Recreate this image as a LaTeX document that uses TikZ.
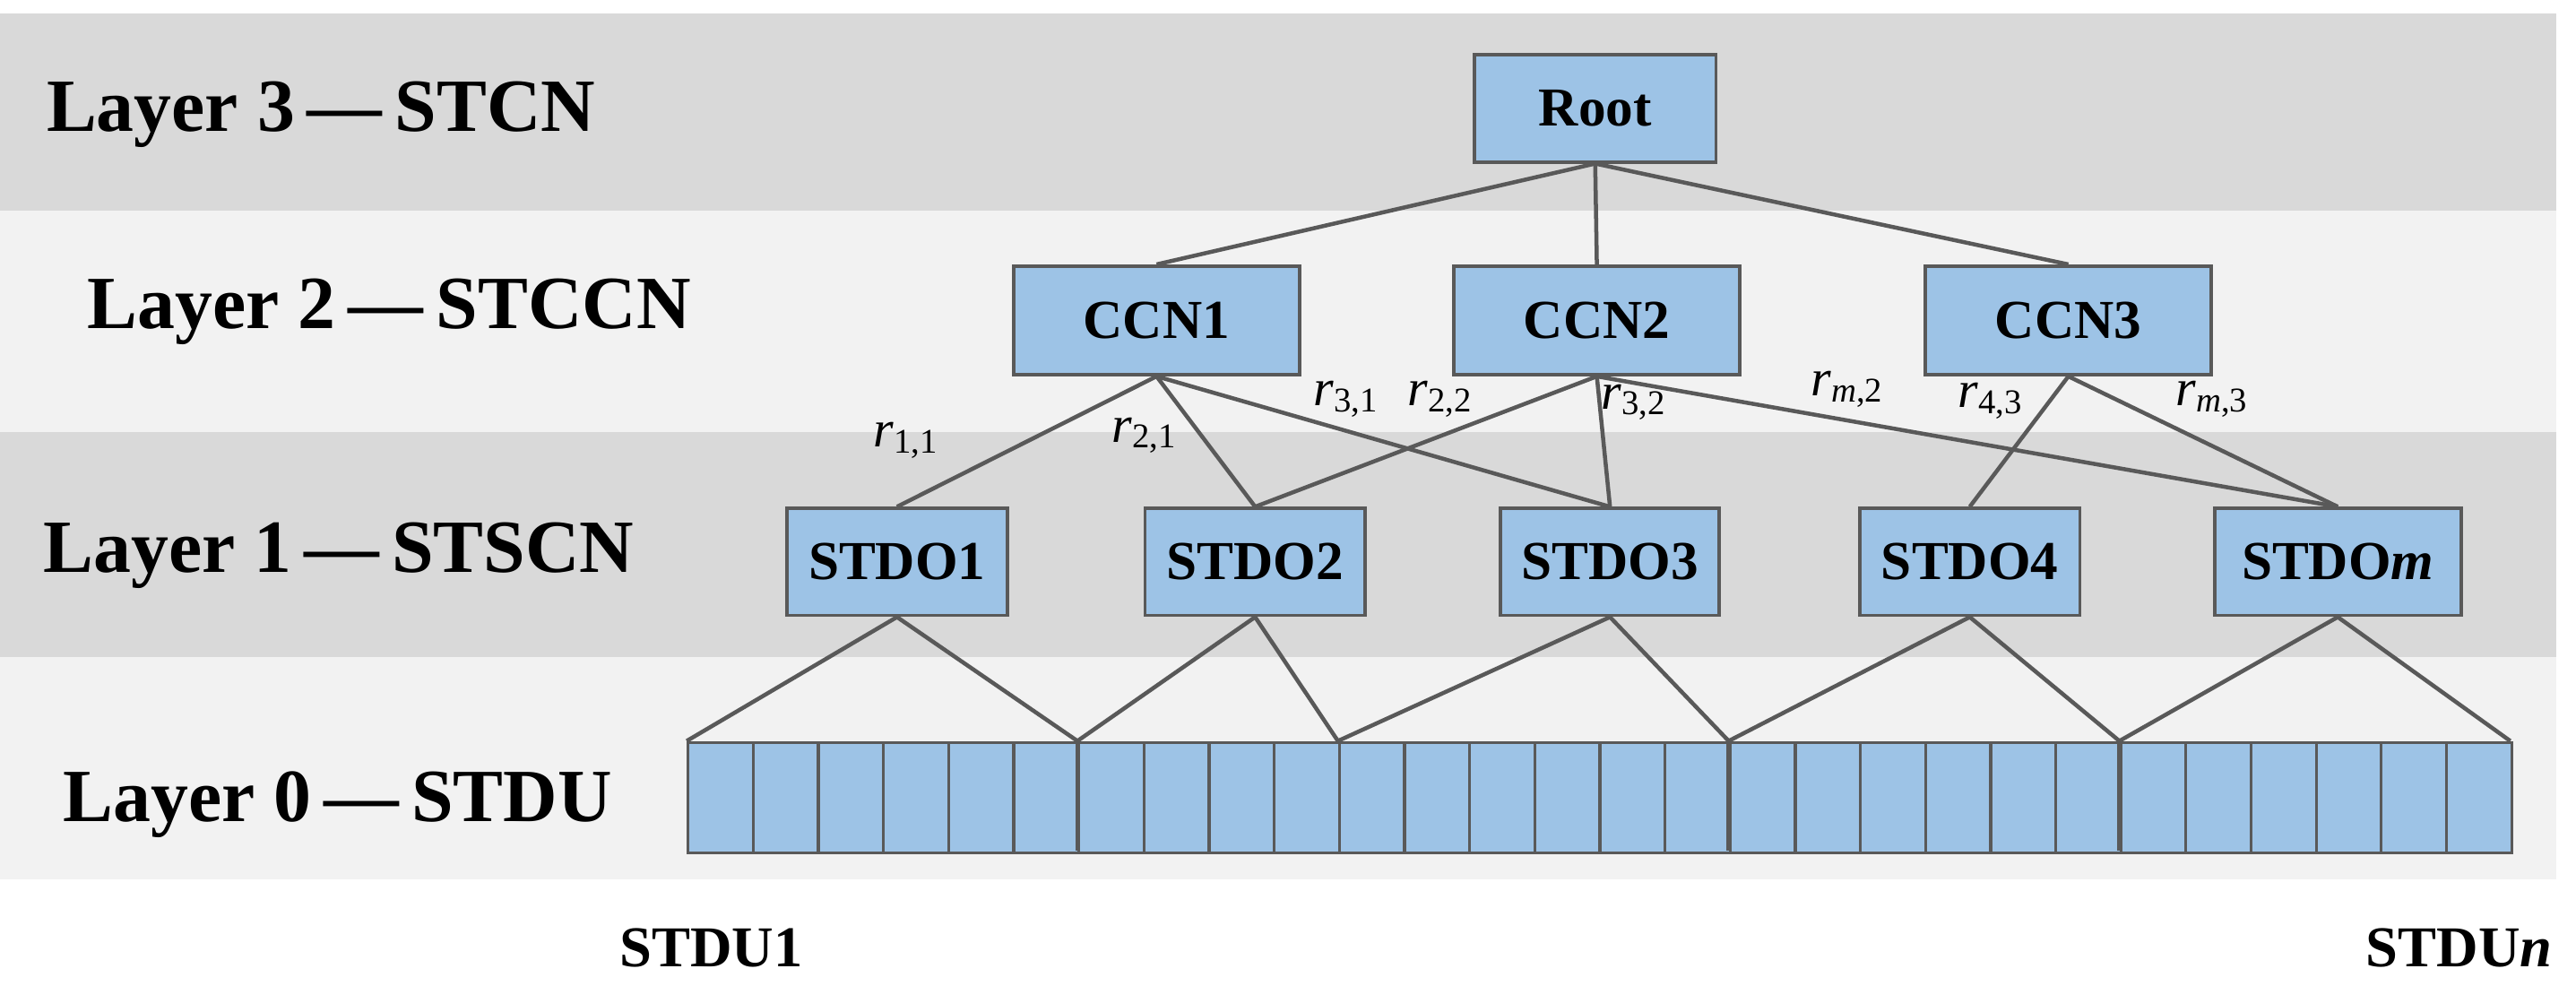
\documentclass[tikz,border=0pt]{standalone}
\usepackage{fontspec}
\setmainfont{Liberation Serif}
\begin{document}
\begin{tikzpicture}[x=0.01cm,y=-0.01cm,
  box/.style={draw=black!65,line width=0.6pt,fill=blueFill,minimum height=0.65cm,inner sep=0pt,font=\fontsize{9.5}{11}\selectfont\bfseries},
  edge/.style={draw=black!65,line width=0.7pt},
  lay/.style={font=\fontsize{13}{15}\selectfont\bfseries,anchor=west},
  wt/.style={font=\fontsize{9}{10}\selectfont,inner sep=0pt}]
\definecolor{blueFill}{HTML}{9DC3E6}
\useasboundingbox (0,0) rectangle (1568,600);
% bands
\fill[black!15] (0,8) rectangle (1556,128);
\fill[black!5] (0,128) rectangle (1556,263);
\fill[black!15] (0,263) rectangle (1556,400);
\fill[black!5] (0,400) rectangle (1556,535);
% layer labels
\node[lay] (l3) at (16,70) {Layer 3\,—\,STCN};
\node[lay] (l2) at (41,190) {Layer 2\,—\,STCCN};
\node[lay] (l1) at (14,338) {Layer 1\,—\,STSCN};
\node[lay] (l0) at (26,490) {Layer 0\,—\,STDU};
% boxes
\node[box,minimum width=1.47cm] (root) at (971,66) {Root};
\node[box,minimum width=1.74cm,minimum height=0.66cm] (c1) at (704,195) {CCN1};
\node[box,minimum width=1.74cm,minimum height=0.66cm] (c2) at (972,195) {CCN2};
\node[box,minimum width=1.74cm,minimum height=0.66cm] (c3) at (1259,195) {CCN3};
\node[box,minimum width=1.34cm] (s1) at (546,342) {STDO1};
\node[box,minimum width=1.34cm] (s2) at (764,342) {STDO2};
\node[box,minimum width=1.33cm] (s3) at (980,342) {STDO3};
\node[box,minimum width=1.34cm] (s4) at (1199,342) {STDO4};
\node[box,minimum width=1.50cm] (sm) at (1423,342) {STDO\textit{m}};
% cells
\foreach \k in {0,...,27}
  \node[draw=black!65,line width=0.5pt,fill=blueFill,minimum width=0.3964cm,minimum height=0.67cm,inner sep=0pt,anchor=north west] (u\k) at ({418+39.64*\k},451) {};
\coordinate (b0) at (418,451);
\coordinate (b6) at ({418+39.64*6},451);
\coordinate (b10) at ({418+39.64*10},451);
\coordinate (b16) at ({418+39.64*16},451);
\coordinate (b22) at ({418+39.64*22},451);
\coordinate (b28) at (1528,451);
\node[font=\fontsize{10}{12}\selectfont\bfseries] (su1) at (433,577) {STDU1};
\node[font=\fontsize{10}{12}\selectfont\bfseries,anchor=east] (sun) at (1566,577) {STDU\textit{n}};
% edges
\draw[edge] (root.south) -- (c1.north);
\draw[edge] (root.south) -- (c2.north);
\draw[edge] (root.south) -- (c3.north);
\draw[edge] (c1.south) -- (s1.north);
\draw[edge] (c1.south) -- (s2.north);
\draw[edge] (c1.south) -- (s3.north);
\draw[edge] (c2.south) -- (s2.north);
\draw[edge] (c2.south) -- (s3.north);
\draw[edge] (c2.south) -- (sm.north);
\draw[edge] (c3.south) -- (s4.north);
\draw[edge] (c3.south) -- (sm.north);
\draw[edge] (b0) -- (s1.south) -- (b6) -- (s2.south) -- (b10) -- (s3.south) -- (b16) -- (s4.south) -- (b22) -- (sm.south) -- (b28);
\draw[edge] (b6) -- ++(0,67) (b16) -- ++(0,67) (b22) -- ++(0,67);
% weights
\node[wt] (w11) at (552,268) {\textit{r}\textsubscript{1,1}};
\node[wt] (w21) at (697,265) {\textit{r}\textsubscript{2,1}};
\node[wt] (w31) at (820,243) {\textit{r}\textsubscript{3,1}};
\node[wt] (w22) at (877,243) {\textit{r}\textsubscript{2,2}};
\node[wt] (w32) at (995,245) {\textit{r}\textsubscript{3,2}};
\node[wt] (wm2) at (1125,237) {\textit{r}\textsubscript{\textit{m},2}};
\node[wt] (w43) at (1212,244) {\textit{r}\textsubscript{4,3}};
\node[wt] (wm3) at (1347,243) {\textit{r}\textsubscript{\textit{m},3}};
\end{tikzpicture}
\end{document}
